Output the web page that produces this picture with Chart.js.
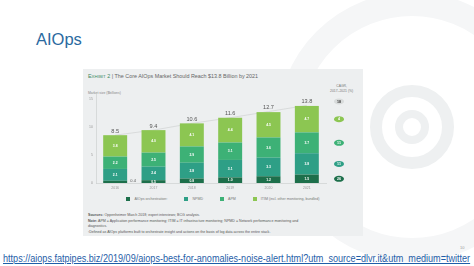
<!DOCTYPE html>
<html lang="en">
<head>
<meta charset="UTF-8">
<title>AIOps</title>
<script src="https://cdn.jsdelivr.net/npm/chart.js"></script>
<style>
  html, body { margin: 0; padding: 0; }
  body { width: 474px; height: 266px; position: relative; overflow: hidden; background: #fff; font-family: "Liberation Sans", Arial, sans-serif; }
  .ring { position: absolute; border-radius: 50%; box-sizing: border-box; }
  #slideTitle { position: absolute; left: 36px; top: 30px; font-size: 16.5px; color: #2b6aa0; }
  #box { position: absolute; left: 83px; top: 69px; width: 280px; height: 167px; background: #edeff0; }
  #box .t { position: absolute; white-space: nowrap; color: #666; }
  #chartWrap { position: absolute; left: 0; top: 0; width: 280px; height: 125px; }
  #legend { position: absolute; left: 0; top: 128px; width: 280px; display: flex; justify-content: center; gap: 17px; font-size: 3.6px; color: #777; }
  #legend span i { display: inline-block; width: 4px; height: 4px; margin-right: 4px; vertical-align: middle; }
  #url { position: absolute; left: 3px; top: 252px; font-size: 11px; color: #1f5ea8; text-decoration: underline; white-space: nowrap; transform-origin: 0 0; }
  #page { position: absolute; left: 460px; top: 245px; font-size: 4px; color: #999; }
</style>
</head>
<body>
  <div class="ring" style="left:277px;top:-8px;width:270px;height:270px;border:24px solid #f5f6f7;"></div>
  <div class="ring" style="left:370px;top:85px;width:84px;height:84px;border:12px solid #eef0f1;"></div>
  <div class="ring" style="left:395px;top:110px;width:34px;height:34px;border:8px solid #eef0f1;"></div>

  <div id="slideTitle">AIOps</div>

  <div id="box">
    <div class="t" style="left:5px;top:4px;font-size:5.4px;"><span style="color:#3f8a5f;">E<span style="font-size:4.4px">XHIBIT</span> 2</span> | The Core AIOps Market Should Reach $13.8 Billion by 2021</div>
    <div class="t" style="left:5px;top:22px;font-size:3.4px;color:#888;">Market size ($billions)</div>
    <div class="t" style="left:247px;top:15px;font-size:3.4px;text-align:center;line-height:4.6px;color:#777;">CAGR,<br>2017–2021 (%)</div>
    <div id="chartWrap"><canvas id="grafico"></canvas></div>
    <div id="legend"></div>
    <div class="t" style="left:5px;top:144px;font-size:3.6px;line-height:5.6px;color:#555;">
      <b>Sources:</b> Oppenheimer March 2018; expert interviews; BCG analysis.<br>
      <b>Note:</b> APM = Application performance monitoring; ITIM = IT infrastructure monitoring; NPMD = Network performance monitoring and<br>
      diagnostics.<br>
      ¹Defined as AIOps platforms built to orchestrate insight and actions on the basis of log data across the entire stack.
    </div>
  </div>

  <div id="page">10</div>
  <div id="url">https://aiops.fatpipes.biz/2019/09/aiops-best-for-anomalies-noise-alert.html?utm_source=dlvr.it&amp;utm_medium=twitter</div>

<script>
  const anos = ['2016', '2017', '2018', '2019', '2020', '2021'];
  const orquestracao = [0.4, 0.5, 0.8, 1.0, 1.2, 1.5];
  const npmd = [2.1, 2.4, 2.8, 3.1, 3.3, 3.8];
  const apm = [2.2, 2.5, 2.9, 3.1, 3.6, 3.7];
  const itim = [3.8, 4.0, 4.1, 4.4, 4.5, 4.7];
  const totais = [8.5, 9.4, 10.6, 11.6, 12.7, 13.8];
  const cagrSeries = [26, 11, 11, 4];
  const cagrTotal = 18;
  const yTicks = [0, 5, 10, 15];

  const nomes = ['AIOps orchestration¹', 'NPMD', 'APM', 'ITIM (incl. other monitoring, bundled)'];
  const cores = ['#1d6f4b', '#2e9f86', '#3db176', '#8cc652'];

  // legenda em html
  const leg = document.getElementById('legend');
  nomes.forEach((n, i) => {
    const s = document.createElement('span');
    s.innerHTML = '<i style="background:' + cores[i] + '"></i>' + n;
    leg.appendChild(s);
  });

  const rotulos = {
    id: 'rotulos',
    afterDatasetsDraw(chart) {
      const ctx = chart.ctx;
      ctx.save();
      ctx.textAlign = 'center';
      ctx.textBaseline = 'middle';
      const barras = [];
      chart.data.datasets.forEach((ds, i) => {
        const meta = chart.getDatasetMeta(i);
        if (ds.type === 'line') {
          ctx.fillStyle = '#555';
          ctx.font = '5.6px "Liberation Sans", Arial';
          meta.data.forEach((p, j) => ctx.fillText(ds.data[j].toFixed(1), p.x, p.y - 4));
          return;
        }
        barras.push({ meta, ds });
        meta.data.forEach((bar, j) => {
          const h = bar.base - bar.y;
          const v = ds.data[j].toFixed(1);
          const meio = (bar.y + bar.base) / 2;
          if (h < 2.5) {
            ctx.fillStyle = '#555';
            ctx.font = '4px "Liberation Sans", Arial';
            ctx.fillText(v, bar.x + bar.width / 2 + 6, meio - 1);
          } else {
            ctx.fillStyle = '#fff';
            ctx.font = 'bold 3.4px "Liberation Sans", Arial';
            ctx.fillText(v, bar.x, meio);
          }
        });
      });
      // bolhas de CAGR
      const x = chart.chartArea.right + 13;
      const bolha = (y, fundo, texto, cor) => {
        ctx.fillStyle = fundo;
        ctx.beginPath();
        ctx.ellipse(x, y, 5, 3, 0, 0, Math.PI * 2);
        ctx.fill();
        ctx.fillStyle = cor;
        ctx.font = 'bold 3.6px "Liberation Sans", Arial';
        ctx.fillText(texto, x, y + 0.2);
      };
      barras.forEach((b, i) => {
        const ult = b.meta.data[b.meta.data.length - 1];
        bolha((ult.y + ult.base) / 2, b.ds.backgroundColor, String(cagrSeries[i]), '#fff');
      });
      const linha = chart.getDatasetMeta(chart.data.datasets.length - 1);
      const topo = linha.data[linha.data.length - 1];
      bolha(topo.y - 4, '#d8dbdb', String(cagrTotal), '#333');
      ctx.restore();
    }
  };

  const serieBarra = (label, data, cor) => ({
    type: 'bar', label, data, backgroundColor: cor, stack: 'mercado', order: 1,
    categoryPercentage: 1, barPercentage: 0.625
  });

  const grafico = new Chart(document.getElementById('grafico'), {
    data: {
      labels: anos,
      datasets: [
        serieBarra(nomes[0], orquestracao, cores[0]),
        serieBarra(nomes[1], npmd, cores[1]),
        serieBarra(nomes[2], apm, cores[2]),
        serieBarra(nomes[3], itim, cores[3]),
        {
          type: 'line', label: 'Total', data: totais, stack: 'total', order: 2,
          borderColor: '#d3d6d6', borderWidth: 0.8, pointRadius: 0, fill: false
        }
      ]
    },
    options: {
      responsive: true,
      maintainAspectRatio: false,
      animation: false,
      events: [],
      layout: { padding: { top: 24, right: 37, left: 0, bottom: 0 } },
      plugins: { legend: { display: false }, tooltip: { enabled: false } },
      scales: {
        x: {
          stacked: true,
          grid: { display: false, drawTicks: false },
          border: { display: true, color: '#c8cbcb', width: 0.6 },
          ticks: { color: '#999', font: { size: 3.5 }, padding: 3 },
          afterFit: s => { s.height = 11; }
        },
        y: {
          stacked: true,
          min: 0,
          max: 16,
          grid: { display: false, drawTicks: false },
          border: { display: true, color: '#c8cbcb', width: 0.6 },
          ticks: { color: '#999', font: { size: 3.5 }, padding: 3 },
          afterBuildTicks: s => { s.ticks = yTicks.map(v => ({ value: v })); },
          afterFit: s => { s.width = 13; }
        }
      }
    },
    plugins: [rotulos]
  });

  // ajusta o link na largura do slide
  const url = document.getElementById('url');
  url.style.transform = 'scaleX(' + (467 / url.offsetWidth) + ')';
</script>
</body>
</html>
